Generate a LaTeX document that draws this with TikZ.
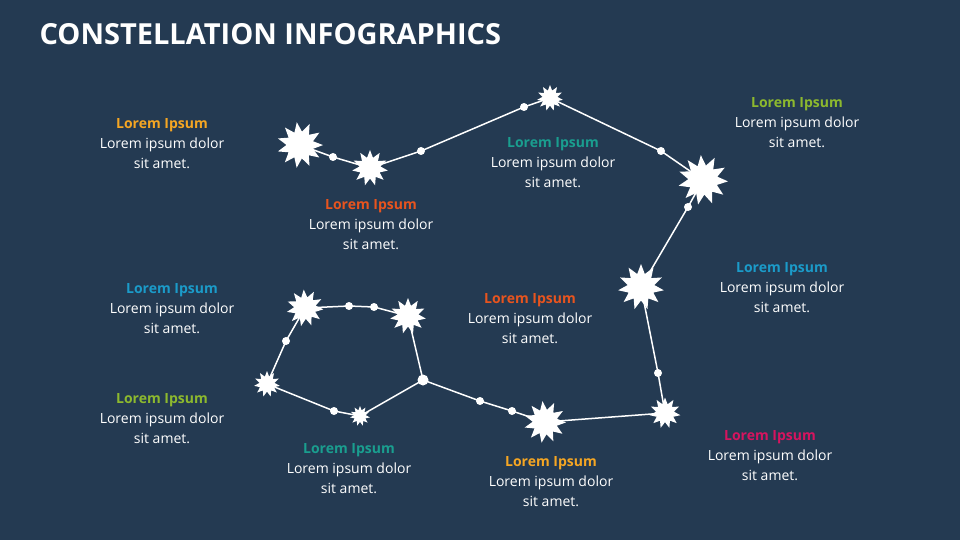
\documentclass[tikz,border=0pt]{standalone}
\usepackage{fontspec}
\setmainfont{Open Sans}
\usetikzlibrary{shapes.geometric,backgrounds}
\definecolor{bg}{HTML}{243A52}
\definecolor{cOr}{HTML}{F5A623}
\definecolor{cRd}{HTML}{E8541E}
\definecolor{cTl}{HTML}{1A9E8F}
\definecolor{cGr}{HTML}{8DB92E}
\definecolor{cBl}{HTML}{1B9BC9}
\definecolor{cMg}{HTML}{D6145F}
\tikzset{
 starnode/.style={star,star points=11,star point ratio=1.7,fill=white,draw=none,inner sep=0pt,minimum size=#1},
 dotnode/.style={circle,fill=white,inner sep=0pt,minimum size=8pt},
 link/.style={white,line width=1.5pt},
 lbl/.style={align=center,text=white,font=\fontsize{14}{20}\selectfont,anchor=north},
}
\newcommand{\lab}[4]{\node[lbl] (#1) at (#2) {{\bfseries\color{#3}Lorem Ipsum}\\Lorem ipsum dolor\\sit amet.};}
\begin{document}
\begin{tikzpicture}[x=1pt,y=-1pt]
\begin{scope}[on background layer]
\fill[bg] (0,0) rectangle (960,540);
\end{scope}
\useasboundingbox (0,0) rectangle (960,540);
\node[anchor=west,text=white,font=\fontsize{29}{32}\selectfont\bfseries] (title) at (36,34) {CONSTELLATION INFOGRAPHICS};
% stars
\node[starnode=46pt,rotate=8] (s1) at (300,145) {};
\node[starnode=36pt] (s2) at (370,168) {};
\node[starnode=26pt] (s3) at (550,98) {};
\node[starnode=50pt,rotate=5] (s4) at (703,180) {};
\node[starnode=46pt] (s5) at (641,287) {};
\node[starnode=31pt] (s6) at (665,413) {};
\node[starnode=42pt,rotate=7] (s7) at (545,422) {};
\node[starnode=36pt] (s8) at (408,316) {};
\node[starnode=37pt,rotate=4] (s9) at (305,308) {};
\node[starnode=26pt] (s10) at (267,384) {};
\node[starnode=20pt] (s11) at (360,416) {};
% dots
\node[dotnode] (d1) at (333,157) {};
\node[dotnode] (d2) at (421,151) {};
\node[dotnode] (d3) at (524,107) {};
\node[dotnode] (d4) at (661,151) {};
\node[dotnode] (d5) at (688,207) {};
\node[dotnode] (d6) at (658,373) {};
\node[dotnode] (d7) at (512,411) {};
\node[dotnode] (d8) at (480,401) {};
\node[dotnode,minimum size=11pt] (d9) at (423,380) {};
\node[dotnode] (d10) at (374,307) {};
\node[dotnode] (d11) at (349,306) {};
\node[dotnode] (d12) at (286,341) {};
\node[dotnode] (d13) at (334,411) {};
\begin{scope}[on background layer]
\draw[link] (s1.center)--(d1.center)--(s2.center)--(d2.center)--(d3.center)--(s3.center)--(d4.center)--(s4.center)--(d5.center)--(s5.center)--(d6.center)--(s6.center)--(s7.center)--(d7.center)--(d8.center)--(d9.center)--(s8.center)--(d10.center)--(d11.center)--(s9.center)--(d12.center)--(s10.center)--(d13.center)--(s11.center)--(d9.center);
\end{scope}
% labels
\lab{l1}{162,115}{cOr}{}
\lab{l2}{371,196}{cRd}{}
\lab{l3}{553,134}{cTl}{}
\lab{l4}{797,94}{cGr}{}
\lab{l5}{782,259}{cBl}{}
\lab{l6}{530,290}{cRd}{}
\lab{l7}{172,280}{cBl}{}
\lab{l8}{162,390}{cGr}{}
\lab{l9}{349,440}{cTl}{}
\lab{l10}{551,453}{cOr}{}
\lab{l11}{770,427}{cMg}{}
\end{tikzpicture}
\end{document}
